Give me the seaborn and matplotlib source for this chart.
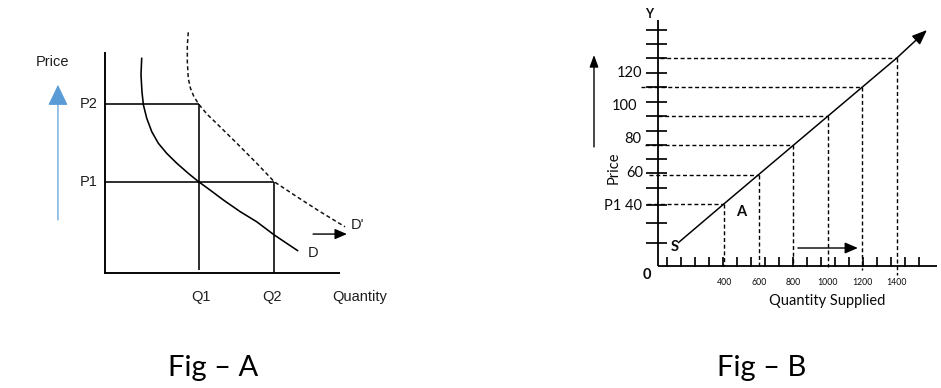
import numpy as np
import pandas as pd
import matplotlib
matplotlib.use("Agg")
import matplotlib.pyplot as plt
import seaborn as sns

# ---------------- data ----------------
# Fig A (conceptual demand shift, arbitrary units)
demand_q = [15.3, 15.0, 15.4, 16.0, 17.4, 19.5, 22.2, 25.7, 29.9, 34.7, 39.0, 43.8,
            49.3, 56.3, 63.2, 70.5, 75.7, 80.5]
demand_p = [97.9, 90.0, 82.4, 76.4, 70.3, 64.2, 59.0, 54.4, 49.9, 45.3, 41.5, 37.7,
            33.2, 27.9, 23.3, 17.3, 13.5, 10.0]
shifted_q = [34.7, 34.3, 34.3, 34.7, 35.6, 37.0, 39.0, 42.5, 46.5, 54.9, 63.2, 70.5,
             79.9, 89.6, 100.0]
shifted_p = [109.4, 103.6, 96.0, 88.5, 84.0, 80.3, 76.8, 72.2, 68.0, 59.0, 49.9, 41.5,
             34.7, 27.9, 21.0]
Q1, Q2 = 39.0, 70.5
P1, P2 = 41.5, 76.8

# Fig B (supply schedule)
supply_q = [400, 600, 800, 1000, 1200, 1400]
supply_p = [40, 60, 80, 100, 120, 140]
supply_line_q = [132, 400, 600, 800, 1000, 1200, 1400, 1574]
supply_line_p = [13.0, 40, 60, 80, 100, 120, 140, 159.1]
x_tick_labels = ["400", "600", "800", "1000", "1200", "1400"]
y_tick_labels = ["120", "100", "80", "60", "P1 40"]
y_tick_marks = [159.1, 149.5, 139.7, 129.8, 119.8, 109.9, 100.1, 90.1, 80.2, 70.4,
                60.8, 50.5, 39.1, 27.0, 12.8]

# ---------------- style ----------------
sns.set_theme(style="white")
plt.rcParams["font.family"] = ["Liberation Sans", "DejaVu Sans"]
plt.rcParams["lines.scale_dashes"] = False
plt.rcParams["lines.solid_capstyle"] = "butt"

W, H = 941, 388
fig = plt.figure(figsize=(W / 100, H / 100), dpi=100)
fig.patch.set_facecolor("white")


def make_axes(x0px, sx, y0px, sy):
    ax = fig.add_axes([0, 0, 1, 1])
    ax.set_xlim((0 - x0px) / sx, (W - x0px) / sx)
    ax.set_ylim((y0px - H) / sy, (y0px - 0) / sy)
    ax.axis("off")
    ax.patch.set_alpha(0)
    return ax


A_MAP = (105.0, 2.4, 273.0, 2.2)
B_MAP = (655.1, 0.1727, 262.0, 1.458)
axA = make_axes(*A_MAP)
axB = make_axes(*B_MAP)

PX = 0.72  # points per pixel
txtA = "#1e1e1e"

# ---------------- Fig A ----------------
lwA = 1.9 * PX
axA.plot([0, 0], [0, 100.5], color="black", lw=lwA)
axA.plot([-0.3, 97.9], [0, 0], color="black", lw=lwA)
lwG = 1.6 * PX
axA.plot([0, Q1], [P2, P2], color="black", lw=lwG)
axA.plot([0, Q2], [P1, P1], color="black", lw=lwG)
axA.plot([Q1, Q1], [P2, 1.4], color="black", lw=lwG)
axA.plot([Q2, Q2], [P1, 0], color="black", lw=lwG)

dfD = pd.DataFrame({"q": demand_q, "p": demand_p})
sns.lineplot(data=dfD, x="q", y="p", sort=False, estimator=None, ax=axA,
             color="black", lw=1.6 * PX)
dfD2 = pd.DataFrame({"q": shifted_q, "p": shifted_p})
sns.lineplot(data=dfD2, x="q", y="p", sort=False, estimator=None, ax=axA,
             color="#111111", lw=1.5 * PX)
axA.lines[-1].set_dashes((4 * PX, 2.8 * PX))
axA.set_xlim((0 - A_MAP[0]) / A_MAP[1], (W - A_MAP[0]) / A_MAP[1])
axA.set_ylim((A_MAP[2] - H) / A_MAP[3], A_MAP[2] / A_MAP[3])
axA.set_xlabel(""); axA.set_ylabel("")

axA.annotate("", xy=(100.8, 17.7), xytext=(86.7, 17.7),
             arrowprops=dict(arrowstyle="-|>,head_length=0.6,head_width=0.26",
                             color="black", lw=1.4 * PX, shrinkA=0, shrinkB=0))
axA.annotate("", xy=(-19.6, 85.5), xytext=(-19.6, 24.1),
             arrowprops=dict(arrowstyle="-|>,head_length=1.08,head_width=0.52",
                             color="#5b9bd5", lw=1.2 * PX, shrinkA=0, shrinkB=0))

fsA = 10.5
axA.text(-21.7, 95.9, "Price", ha="center", va="center", fontsize=fsA, color=txtA)
axA.text(-6.7, P2, "P2", ha="center", va="center", fontsize=fsA, color=txtA)
axA.text(-6.7, P1, "P1", ha="center", va="center", fontsize=fsA, color=txtA)
axA.text(40.0, -10.9, "Q1", ha="center", va="center", fontsize=fsA, color=txtA)
axA.text(69.6, -10.9, "Q2", ha="center", va="center", fontsize=fsA, color=txtA)
axA.text(106.3, -10.9, "Quantity", ha="center", va="center", fontsize=fsA, color=txtA)
axA.text(86.7, 9.1, "D", ha="center", va="center", fontsize=fsA, color=txtA)
axA.text(105.4, 21.8, "D'", ha="center", va="center", fontsize=fsA, color=txtA)

# ---------------- Fig B ----------------
fB = ["Lato", "DejaVu Sans"]
tB = "#0a0a0a"
lwB = 1.8 * PX
axB.plot([16.8, 16.8], [-2.5, 166], color="black", lw=lwB)
axB.plot([16.8, 1632], [-2.5, -2.5], color="black", lw=lwB)
axB.hlines(y_tick_marks, -54.4, 70.6, color="black", lw=1.7 * PX)
x_marks = np.linspace(67, 1530, 19)
axB.vlines(x_marks, -3.7, 3.6, color="black", lw=1.7 * PX)

h_start = [-47, -35, -58, 17, -82, 28]
v_end = [-2.5, -3.0, -2.5, -3.5, -5.5, -9.0]
dash = (4 * PX, 2.7 * PX)
for q, p, xs, ye in zip(supply_q, supply_p, h_start, v_end):
    ln, = axB.plot([xs, q], [p, p], color="black", lw=1.4 * PX)
    ln.set_dashes(dash)
    ln, = axB.plot([q, q], [p, ye], color="black", lw=1.4 * PX)
    ln.set_dashes(dash)

dfS = pd.DataFrame({"q": supply_line_q[:-1], "p": supply_line_p[:-1]})
sns.lineplot(data=dfS, x="q", y="p", sort=False, estimator=None, ax=axB,
             color="black", lw=1.5 * PX)
axB.annotate("", xy=(supply_line_q[-1], supply_line_p[-1]),
             xytext=(supply_line_q[-2], supply_line_p[-2]),
             arrowprops=dict(arrowstyle="-|>,head_length=0.75,head_width=0.3",
                             color="black", lw=1.5 * PX, shrinkA=0, shrinkB=0))
axB.set_xlim((0 - B_MAP[0]) / B_MAP[1], (W - B_MAP[0]) / B_MAP[1])
axB.set_ylim((B_MAP[2] - H) / B_MAP[3], B_MAP[2] / B_MAP[3])
axB.set_xlabel(""); axB.set_ylabel("")

axB.annotate("", xy=(-353.8, 142.0), xytext=(-353.8, 78.9),
             arrowprops=dict(arrowstyle="-|>,head_length=0.6,head_width=0.22",
                             color="black", lw=1.4 * PX, shrinkA=0, shrinkB=0))
axB.annotate("", xy=(1174, 9.6), xytext=(827, 9.6),
             arrowprops=dict(arrowstyle="-|>,head_length=0.65,head_width=0.28",
                             color="black", lw=1.4 * PX, shrinkA=0, shrinkB=0))

for lab, q in zip(x_tick_labels, supply_q):
    axB.text(q, -14.2, lab, ha="center", va="center", fontsize=6.3,
             family=fB, color=tB)
y_lab_pos = [129.8, 107.0, 84.4, 61.0, 38.4]
y_lab_right = [-76.0, -104.0, -83.0, -68.0, -74.0]
for lab, p, xr in zip(y_tick_labels, y_lab_pos, y_lab_right):
    axB.text(xr, p, lab, ha="right", va="center", fontsize=10.5,
             family=fB, color=tB)
axB.text(996, -26.5, "Quantity Supplied", ha="center", va="center", fontsize=10.5,
         family=fB, color=tB)
axB.text(-238, 64.5, "Price", ha="center", va="center", fontsize=10.5,
         family=fB, color=tB, rotation=90)
axB.text(-47, -8.9, "0", ha="center", va="center", fontsize=10.5, fontweight="bold",
         family=fB, color=tB)
axB.text(-32, 170.4, "Y", ha="center", va="center", fontsize=9, fontweight="bold",
         family=fB, color=tB)
axB.text(111, 10.5, "S", ha="center", va="center", fontsize=10.5, fontweight="bold",
         family=fB, color=tB)
axB.text(501, 34.5, "A", ha="center", va="center", fontsize=10.5, fontweight="bold",
         family=fB, color=tB)

fig.text(213 / W, 1 - 375.7 / H, "Fig \u2013 A", ha="center", va="baseline",
         fontsize=21, family=fB, color="black")
fig.text(762 / W, 1 - 375.7 / H, "Fig \u2013 B", ha="center", va="baseline",
         fontsize=21, family=fB, color="black")

fig.savefig("out.png", dpi=100, facecolor="white")
